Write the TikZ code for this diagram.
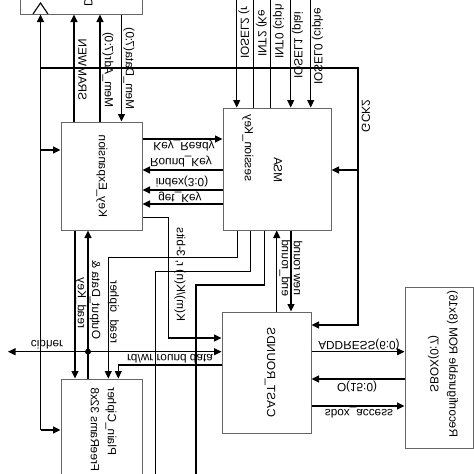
\documentclass[tikz,border=0pt]{standalone}
\usepackage{fontspec}
\setmainfont{Liberation Sans}
\usetikzlibrary{arrows.meta}
\newcommand{\sig}{\fontsize{11.8}{13}\selectfont}
\tikzset{
  blk/.style={draw=black!60, line width=1pt, inner sep=0pt},
  wire/.style={line width=1.1pt},
  arr/.style={wire, -{Triangle[length=7.5pt,width=7pt]}},
  hlab/.style={yscale=-1, inner sep=1pt, font=\sig},
  vlab/.style={xscale=-1, rotate=90, inner sep=1pt, font=\sig},
}
\begin{document}
\begin{tikzpicture}[x=1pt, y=-1pt]
\useasboundingbox (0,0) rectangle (474,474);
\clip (0,0) rectangle (474,474);

% Bloques
\node[blk, minimum width=122pt, minimum height=44pt] (mem) at (81,-8) {};
\node[blk, minimum width=81pt, minimum height=108pt] (ke) at (101.5,176) {};
\node[blk, minimum width=108pt, minimum height=122pt] (msa) at (277,169) {};
\node[blk, minimum width=81pt, minimum height=121pt] (pc) at (101.5,439.5) {};
\node[blk, minimum width=89pt, minimum height=121pt] (cast) at (266.5,372.5) {};
\node[blk, minimum width=68pt, minimum height=161pt] (rom) at (439,367.5) {};

% Nombres de los bloques
\node[vlab, anchor=west] (memT) at (88.5,8) {D};
\node[vlab] (keT) at (102,176) {Key\_Expansion};
\node[vlab] (msaT) at (278,170) {MSA};
\node[vlab] (sesT) at (248,148) {session\_Key};
\node[vlab] (castT) at (270,372.5) {CAST\_ROUNDS};
\node[vlab, align=center, font=\fontsize{11.8}{19}\selectfont] (romT) at (443,364)
  {Reconfigurable ROM (8x16)\\SBOX(0:7)};
\node[vlab, align=right, anchor=east, font=\fontsize{11.8}{17}\selectfont] (pcT) at (103.5,386.5)
  {Plain\_Cipher\\FreeRams 32x8};

% Reloj GCK2
\draw[wire] (33,14) -- (40.5,3) -- (48,14);
\coordinate (clkL) at (40.5,430);
\coordinate (clkR) at (358,68);
\draw[arr] (clkL) -- (clkL -| pc.west);
\draw[arr] (clkL) -- (clkL |- mem.south);
\draw[arr] (clkL |- 0,150) -- (ke.west |- 0,150);
\draw[arr] (clkL |- clkR) -- (clkR) |- (cast.east |- 0,325);
\draw[arr] (clkR |- 0,170) -- (msa.east |- 0,170);
\node[vlab] (gckT) at (366,116) {GCK2};

% Memoria <-> Key_Expansion
\draw[arr] (ke.north -| 74,0) -- (mem.south -| 74,0);
\draw[arr] (ke.north -| 100,0) -- (mem.south -| 100,0);
\draw[arr] (mem.south -| 121.5,0) -- (ke.north -| 121.5,0);
\node[vlab] (wenT) at (82.5,70) {SRAMWEN};
\node[vlab] (adrT) at (108,70) {Mem\_Adr(7:0)};
\node[vlab] (datT) at (129,68.5) {Mem\_Data(7:0)};

% Entradas de MSA
\foreach \x/\s in {236.7/arr, 253.3/wire, 270.7/wire, 290.7/arr, 310.7/arr}
  \draw[\s] (\x,-2) -- (msa.north -| \x,0);
\node[vlab, anchor=west] (io2T) at (244,60) {IOSEL2 (r};
\node[vlab, anchor=west] (in2T) at (261.5,58) {INT2 (Ke};
\node[vlab, anchor=west] (in0T) at (278.5,60) {INT0 (ciph};
\node[vlab, anchor=west] (io1T) at (297.5,80) {IOSEL1 (plai};
\node[vlab, anchor=west] (io0T) at (317.5,86) {IOSEL0 (ciphe};

% Key_Expansion <-> MSA
\draw[arr] (ke.east |- 0,139) -- (msa.west |- 0,139);
\foreach \y in {170,190,204}
  \draw[arr] (msa.west |- 0,\y) -- (ke.east |- 0,\y);
\node[hlab] (rdyT) at (184,146) {Key\_Ready};
\node[hlab] (rkT) at (181,162) {Round\_Key};
\node[hlab] (idxT) at (182,182) {index(3:0)};
\node[hlab] (gkT) at (180,197) {get\_Key};

% Subclaves hacia CAST_ROUNDS
\draw[arr] (ke.east |- 0,217.5) -| (168.5,338) -- (cast.west |- 0,338);
\node[vlab] (kmT) at (180,274.5) {K(m)/K(n) r, 3-bits};

% Salidas inferiores de MSA
\draw[arr] (msa.south -| 237.3,0) |- (108.3,257.5) -- (pc.north -| 108.3,0);
\draw[wire] (msa.south -| 250.7,0) |- (155.7,271.7) -- (155.7,480);
\draw[wire] (msa.south -| 264.3,0) |- (196,285) -- (196,480);
\node[vlab] (rcT) at (113.5,312) {read\_cipher};

% Key_Expansion <-> Plain_Cipher
\draw[arr] (ke.south -| 75,0) -- (pc.north -| 75,0);
\draw[arr] (pc.north -| 88,0) -- (ke.south -| 88,0);
\node[vlab] (rkyT) at (81,303) {read\_Key};
\node[vlab] (outT) at (95,300) {Output\_Data \&};

% Bus cipher
\coordinate (cout) at (8,351.7);
\draw[wire, {Triangle[length=7.5pt,width=7pt]}-{Triangle[length=7.5pt,width=7pt]}]
  (cout) -- (cast.west |- cout);
\fill (88,351.7) circle (3pt);
\node[hlab] (ciT) at (47,344) {cipher};
\draw[arr] (cast.west |- 0,365) -| (pc.north -| 118.3,0);
\node[hlab] (rwT) at (170,359) {rd/wr round data};

% MSA <-> CAST_ROUNDS
\draw[arr] (cast.north -| 276.7,0) -- (msa.south -| 276.7,0);
\draw[arr] (msa.south -| 291,0) -- (cast.north -| 291,0);
\node[vlab] (endT) at (285,268) {end\_round};
\node[vlab] (newT) at (298,268) {new round};

% CAST_ROUNDS <-> ROM
\draw[arr] (cast.east |- 0,351.7) -- (rom.west |- 0,351.7);
\draw[arr] (rom.west |- 0,379) -- (cast.east |- 0,379);
\draw[arr] (cast.east |- 0,406) -- (rom.west |- 0,406);
\node[hlab] (adT) at (359,345) {ADDRESS(6:0)};
\node[hlab] (oT) at (357,387) {O(15:0)};
\node[hlab] (sbT) at (359,413) {sbox\_access};
\end{tikzpicture}
\end{document}
